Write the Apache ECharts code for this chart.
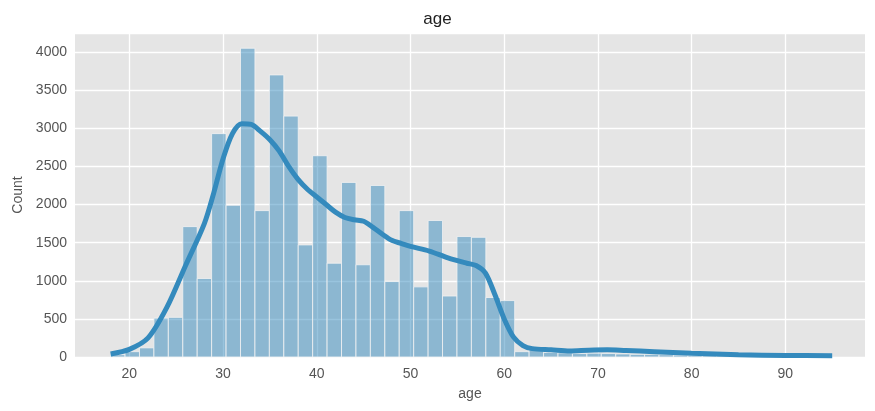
<!DOCTYPE html>
<html><head><meta charset="utf-8">
<script src="https://cdn.jsdelivr.net/npm/echarts@6/dist/echarts.min.js"></script>
<style>html,body{margin:0;background:#fff}#c{width:875px;height:411px}</style>
</head><body><div id="c"></div>
<script>
// histogram: 50 bins from 18 to 95
var binStart = 18, binEnd = 95;
var counts = [30, 70, 120, 510, 520, 1710, 1030, 2930, 1990, 4050,
  1920, 3700, 3160, 1470, 2640, 1230, 2290, 1210, 2250, 990,
  1920, 920, 1790, 800, 1580, 1570, 780, 740, 70, 110,
  60, 55, 45, 50, 45, 40, 35, 35, 30, 25,
  22, 18, 15, 12, 10, 8, 6, 5, 4, 3];
// kde curve
var kdeAge = [18, 20, 22, 24, 26, 28, 29, 30, 31, 32, 33, 34, 35, 36, 37, 38, 39, 40, 41, 42, 43, 44, 45, 46, 47, 48, 49, 50, 52, 54, 56, 57, 58, 59, 60, 61, 62, 63, 65, 67, 69, 71, 73, 76, 80, 85, 90, 95];
var kdeVal = [40, 100, 250, 650, 1200, 1750, 2150, 2600, 2930, 3060, 3050, 2960, 2850, 2700, 2500, 2330, 2200, 2100, 2000, 1900, 1830, 1800, 1780, 1700, 1610, 1530, 1490, 1450, 1390, 1300, 1230, 1200, 1100, 820, 500, 260, 150, 110, 95, 80, 90, 95, 85, 70, 50, 30, 20, 18];
var xTicks = [20, 30, 40, 50, 60, 70, 80, 90];

var w = (binEnd - binStart) / counts.length;
var bars = counts.map(function (c, i) { return [binStart + i * w, binStart + (i + 1) * w, c]; });
var kde = kdeAge.map(function (a, i) { return [a, kdeVal[i]]; });

var chart = echarts.init(document.getElementById('c'));
var txt = {color: '#555', fontFamily: 'Liberation Sans', fontSize: 14};
chart.setOption({
  backgroundColor: '#fff',
  animation: false,
  title: {text: 'age', left: 'center', top: 6, textStyle: {color: '#222', fontFamily: 'Liberation Sans', fontSize: 17, fontWeight: 'normal'}},
  grid: {left: 75, right: 10, top: 33, bottom: 54, show: true, backgroundColor: '#e5e5e5', borderWidth: 0},
  xAxis: {type: 'value', min: 14.2, max: 98.5, name: 'age', nameLocation: 'middle', nameGap: 30,
    nameTextStyle: txt, axisLine: {show: false}, axisTick: {show: false},
    axisLabel: Object.assign({customValues: xTicks, margin: 10}, txt),
    splitLine: {show: false}},
  yAxis: {type: 'value', min: 0, max: 4250, interval: 500, name: 'Count', nameLocation: 'middle', nameGap: 50,
    nameTextStyle: txt, axisLine: {show: false}, axisTick: {show: false},
    axisLabel: Object.assign({formatter: function (v) { return v > 4000 ? '' : String(v); }}, txt),
    splitLine: {lineStyle: {color: '#fff', width: 1.3}}},
  series: [{
    type: 'custom', data: bars, z: 2,
    renderItem: function (params, api) {
      var p0 = api.coord([api.value(0), api.value(2)]);
      var p1 = api.coord([api.value(1), 0]);
      return {type: 'rect', shape: {x: p0[0], y: p0[1], width: p1[0] - p0[0], height: p1[1] - p0[1]},
        style: {fill: 'rgba(52,138,189,0.5)', stroke: '#f2f2f2', lineWidth: 0.8}};
    },
    markLine: {silent: true, symbol: 'none', label: {show: false}, z: 0,
      lineStyle: {color: '#fff', width: 1.3, type: 'solid'},
      data: xTicks.map(function (t) { return {xAxis: t}; })}
  }, {
    type: 'line', data: kde, smooth: 0.3, symbol: 'none', z: 3,
    lineStyle: {color: '#348abd', width: 5}
  }]
});
</script></body></html>
